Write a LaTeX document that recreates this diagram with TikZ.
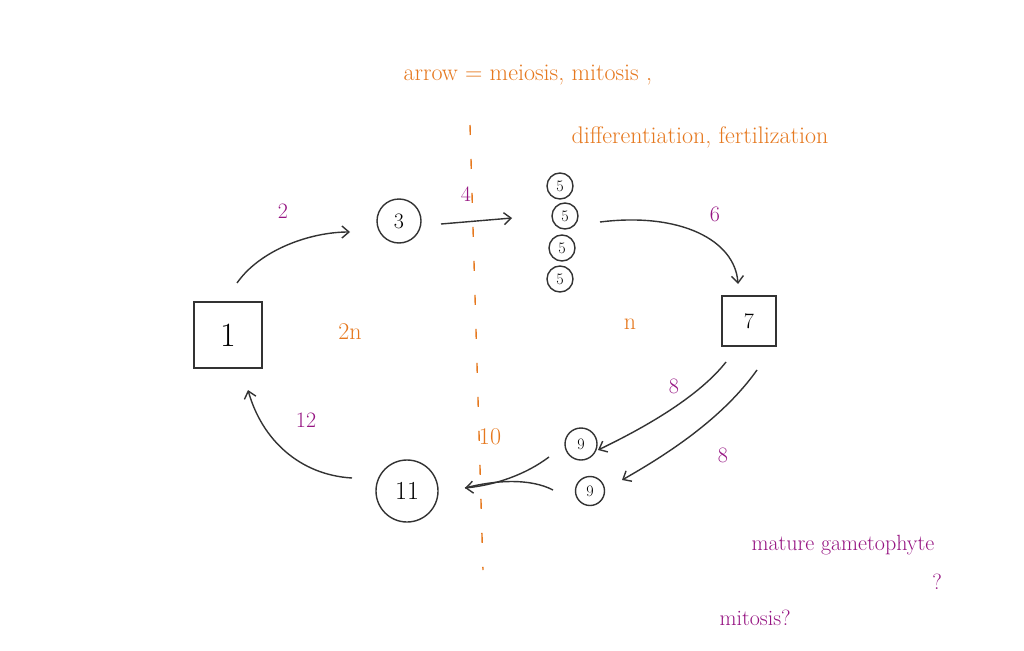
\documentclass[tikz,border=0pt]{standalone}
\usetikzlibrary{arrows.meta}
\definecolor{org}{RGB}{230,120,30}
\definecolor{pur}{RGB}{150,20,130}
\begin{document}
\begin{tikzpicture}[x=1pt,y=-1pt,
  ink/.style={draw=black!80,line width=1.4pt},
  arr/.style={ink,-{Straight Barb[length=7pt,width=12pt]}},
  sm/.style={circle,ink,inner sep=0pt,minimum size=26pt,font=\fontsize{16}{18}\selectfont},
  lo/.style={text=org,font=\fontsize{24}{28}\selectfont},
  lp/.style={text=pur,font=\fontsize{22}{26}\selectfont}]
\useasboundingbox (0,0) rectangle (1024,650);
\fill[white] (0,0) rectangle (1024,650);
\node[lo,anchor=west] (t1) at (400,75) {arrow = meiosis, mitosis ,};
\node[lo,anchor=west] (t2) at (568,137) {differentiation, fertilization};
\coordinate (dt) at (470,125); \coordinate (db) at (483,570);
\draw[org,line width=1.4pt,dash pattern=on 10pt off 24pt] (dt) -- (db);
\node[ink,minimum width=68pt,minimum height=66pt,font=\fontsize{34}{36}\selectfont] (n1) at (228,335) {1};
\node[lo] (p2n) at (350,332) {2n};
\node[lo] (pn) at (630,324) {n};
\node[circle,ink,minimum size=44pt,font=\fontsize{22}{24}\selectfont] (n3) at (399,221) {3};
\node[sm] (a) at (560,186) {5};
\node[sm] (b) at (565,216) {5};
\node[sm] (c) at (562,248) {5};
\node[sm] (d) at (560,279) {5};
\node[ink,minimum width=54pt,minimum height=50pt,font=\fontsize{22}{24}\selectfont] (n7) at (749,321) {7};
\node[sm,minimum size=32pt] (g1) at (581,444) {9};
\node[sm,minimum size=29pt] (g2) at (590,491) {9};
\node[circle,ink,minimum size=62pt,font=\fontsize{26}{28}\selectfont] (n11) at (407,491) {11};
\node[lp] (l2) at (283,211) {2};
\node[lp] (l4) at (466,194) {4};
\node[lp] (l6) at (715,214) {6};
\node[lp] (l8a) at (674,386) {8};
\node[lp] (l8b) at (723,455) {8};
\node[lo] (l10) at (490,437) {10};
\node[lp] (l12) at (306,420) {12};
\coordinate (s2) at (237,283); \coordinate (e2) at (350,232);
\draw[arr] (s2) .. controls (260,250) and (310,232) .. (e2);
\coordinate (s4) at (441,224); \coordinate (e4) at (512,218);
\draw[arr] (s4) -- (e4);
\coordinate (s6) at (600,222); \coordinate (e6) at (738,284);
\draw[arr] (s6) .. controls (680,212) and (735,240) .. (e6);
\coordinate (s8a) at (726,362); \coordinate (e8a) at (598,450);
\draw[arr] (s8a) .. controls (700,395) and (650,425) .. (e8a);
\coordinate (s8b) at (757,370); \coordinate (e8b) at (622,480);
\draw[arr] (s8b) .. controls (725,415) and (675,450) .. (e8b);
\coordinate (s10) at (549,457); \coordinate (s10b) at (553,490); \coordinate (e10) at (465,488);
\draw[arr] (s10) .. controls (525,475) and (495,485) .. (e10);
\draw[ink] (s10b) .. controls (530,478) and (495,480) .. (e10);
\coordinate (s12) at (352,478); \coordinate (e12) at (248,390);
\draw[arr] (s12) .. controls (300,475) and (262,440) .. (e12);
\node[lp,anchor=west] (m1) at (748,545) {mature gametophyte};
\node[lp] (q) at (937,582) {?};
\node[lp,anchor=west] (m2) at (716,618) {mitosis?};
\end{tikzpicture}
\end{document}
